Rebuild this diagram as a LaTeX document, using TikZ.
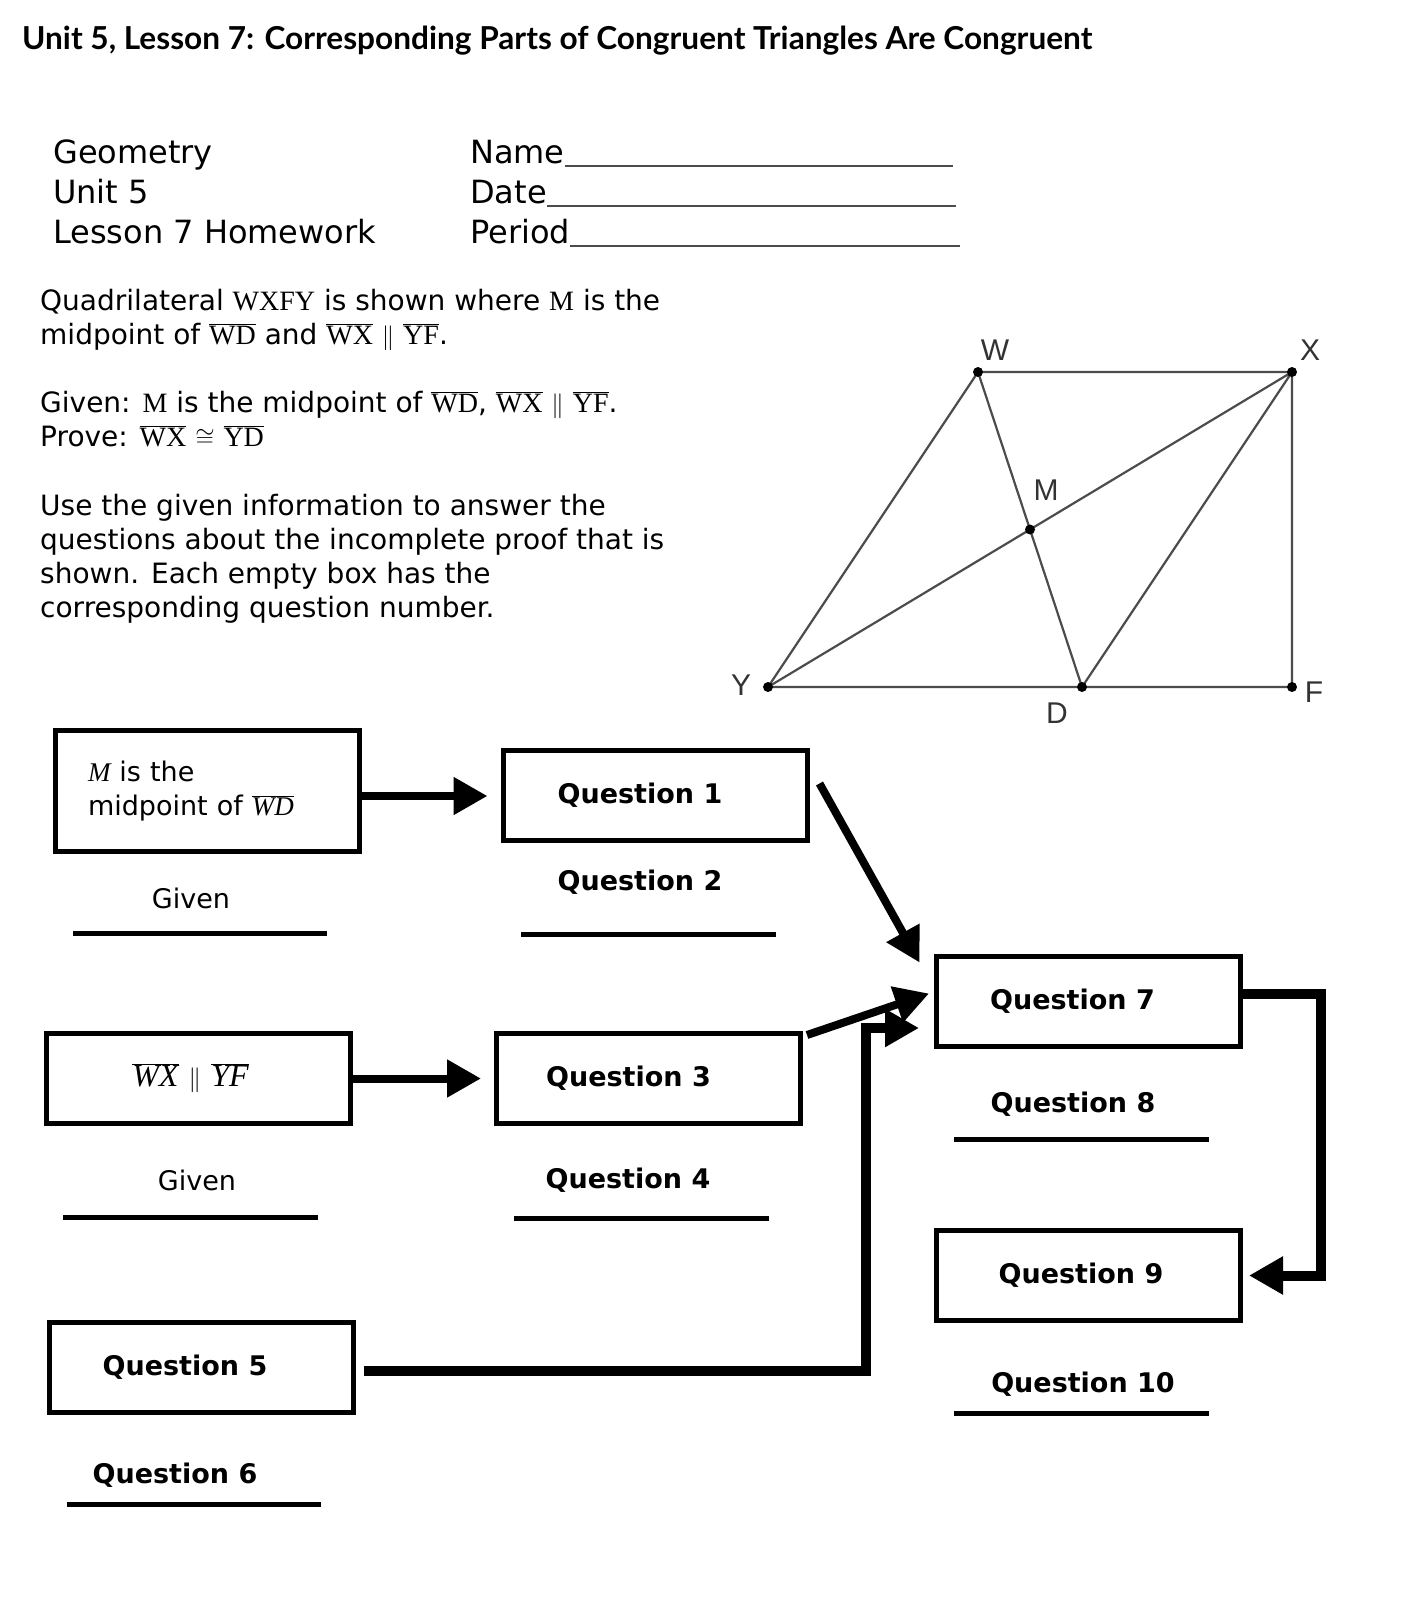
\documentclass[tikz,border=0pt]{standalone}
\usepackage{fontspec}
\usepackage{graphicx}
\setmainfont{DejaVu Sans}
\newfontfamily\titlefont{Lato}
\newfontfamily\serif{Liberation Serif}
\newfontfamily\labfont{Liberation Sans}
\usetikzlibrary{arrows.meta,calc}
\newcommand{\olseg}[1]{$\overline{\hbox{\serif #1}}$}
\newcommand{\olit}[1]{$\overline{\hbox{\serif\itshape #1}}$}
\begin{document}
\begin{tikzpicture}[x=1pt,y=-1pt,
  txt/.style={anchor=base west, inner sep=0, font=\fontsize{28}{34}\selectfont},
  hdr/.style={anchor=base west, inner sep=0, font=\fontsize{32}{40}\selectfont},
  box/.style={draw, line width=5pt, minimum width=304pt, minimum height=90pt, inner sep=0, font=\fontsize{27}{34}\selectfont\bfseries},
  reason/.style={anchor=base, inner sep=0, font=\fontsize{27}{34}\selectfont},
  qlab/.style={anchor=base, inner sep=0, font=\fontsize{27}{34}\selectfont\bfseries},
  uline/.style={line width=5pt},
  arr/.style={line width=8pt, -{Triangle[length=34pt,width=36pt]}},
  seg/.style={draw=black!70, line width=2.2pt},
  pt/.style={circle, fill=black, inner sep=0, minimum size=10pt},
  plab/.style={inner sep=0, font=\fontsize{30}{36}\labfont, text=black!80},
]
\path[use as bounding box, fill=white] (0,0) rectangle (1412,1600);

% title
\node[anchor=base west, inner sep=0] (title) at (22,50)
  {\resizebox{1070pt}{!}{\fontsize{30}{36}\titlefont\bfseries Unit 5, Lesson 7: Corresponding Parts of Congruent Triangles Are Congruent}};

% header
\node[hdr] (h1) at (53,163) {Geometry};
\node[hdr] (h2) at (53,203) {Unit 5};
\node[hdr] (h3) at (53,243) {Lesson 7 Homework};
\node[hdr] (nm) at (470,163) {Name};
\node[hdr] (dt) at (470,203) {Date};
\node[hdr] (pd) at (470,243) {Period};
\draw[black!70, line width=1.2pt] ($(nm.base east)+(0,3)$) -- (953,166);
\draw[black!70, line width=1.2pt] ($(dt.base east)+(0,3)$) -- (956,206);
\draw[black!70, line width=1.2pt] ($(pd.base east)+(0,3)$) -- (960,246);

% paragraphs
\node[txt] (p1) at (40,310) {Quadrilateral {\serif WXFY} is shown where {\serif M} is the};
\node[txt] (p2) at (40,344) {midpoint of \olseg{WD} and \olseg{WX} $\parallel$ \olseg{YF}.};
\node[txt] (p3) at (40,412) {Given: {\serif M} is the midpoint of \olseg{WD}, \olseg{WX} $\parallel$ \olseg{YF}.};
\node[txt] (p4) at (40,446) {Prove: \olseg{WX} $\cong$ \olseg{YD}};
\node[txt] (p5) at (40,515) {Use the given information to answer the};
\node[txt] (p6) at (40,549) {questions about the incomplete proof that is};
\node[txt] (p7) at (40,583) {shown. Each empty box has the};
\node[txt] (p8) at (40,617) {corresponding question number.};

% figure
\coordinate (W) at (978,372);
\coordinate (X) at (1292,372);
\coordinate (Y) at (768,687);
\coordinate (D) at (1082,687);
\coordinate (F) at (1292,687);
\coordinate (M) at (1030,529.5);
\draw[seg] (W) -- (X) -- (F) -- (Y) -- cycle;
\draw[seg] (W) -- (D);
\draw[seg] (Y) -- (X) -- (D);
\foreach \p in {W,X,Y,D,F,M} \node[pt] (d\p) at (\p) {};
\node[plab] (lW) at (995,350) {W};
\node[plab] (lX) at (1310,350) {X};
\node[plab] (lM) at (1046,490) {M};
\node[plab] (lY) at (741,685) {Y};
\node[plab] (lD) at (1057,713) {D};
\node[plab] (lF) at (1314,692) {F};

% proof boxes
\node[box, minimum height=121pt, text width=239pt, align=left, font=\fontsize{27}{34}\selectfont] (ga) at (207.5,791)
  {{\serif\itshape M} is the\\midpoint of \olit{WD}};
\node[box] (q1) at (655,795.5) {Question 1\kern30pt};
\node[box, font=\fontsize{32}{34}\selectfont] (gb) at (198,1078.5) {\olit{WX} $\parallel$ \olit{YF}\kern15pt};
\node[box] (q3) at (648.5,1078.5) {Question 3\kern40pt};
\node[box] (q5) at (201,1367) {Question 5\kern32pt};
\node[box] (q7) at (1088.5,1001.5) {Question 7\kern32pt};
\node[box] (q9) at (1088.5,1275.5) {Question 9\kern15pt};

% reasons
\node[reason] (r1) at (191,908) {Given};
\draw[uline] (73,933) -- (327,933);
\node[qlab] (r2) at (640,890) {Question 2};
\draw[uline] (521,934) -- (776,934);
\node[reason] (r3) at (197,1190) {Given};
\draw[uline] (63,1217) -- (318,1217);
\node[qlab] (r4) at (628,1188) {Question 4};
\draw[uline] (514,1218) -- (769,1218);
\node[qlab] (r6) at (175,1483) {Question 6};
\draw[uline] (67,1504) -- (321,1504);
\node[qlab] (r8) at (1073,1112) {Question 8};
\draw[uline] (954,1139) -- (1209,1139);
\node[qlab] (r10) at (1083,1392) {Question 10};
\draw[uline] (954,1413) -- (1209,1413);

% connectors
\draw[arr] ($(ga.east)+(0,5)$) -- ($(q1.west)+(-13,0.5)$);
\draw[arr] ($(gb.east)+(0,0)$) -- ($(q3.west)+(-13,0)$);
\draw[arr] ($(q1.east)+(10,-12)$) -- ($(q7.north west)+(-14.5,8.5)$);
\draw[arr] ($(q3.north east)+(4,4)$) -- ($(q7.west)+(-5,-8)$);
\draw[arr, line width=10pt, line join=miter] ($(q5.east)+(8,4)$) -| ($(q7.south west)+(-68,-21)$) -- ($(q7.south west)+(-15,-21)$);
\draw[arr, line width=10pt, line join=miter] ($(q7.east)+(-4,-8)$) -- ++(82,0) |- ($(q9.east)+(6,0)$);
\end{tikzpicture}
\end{document}
